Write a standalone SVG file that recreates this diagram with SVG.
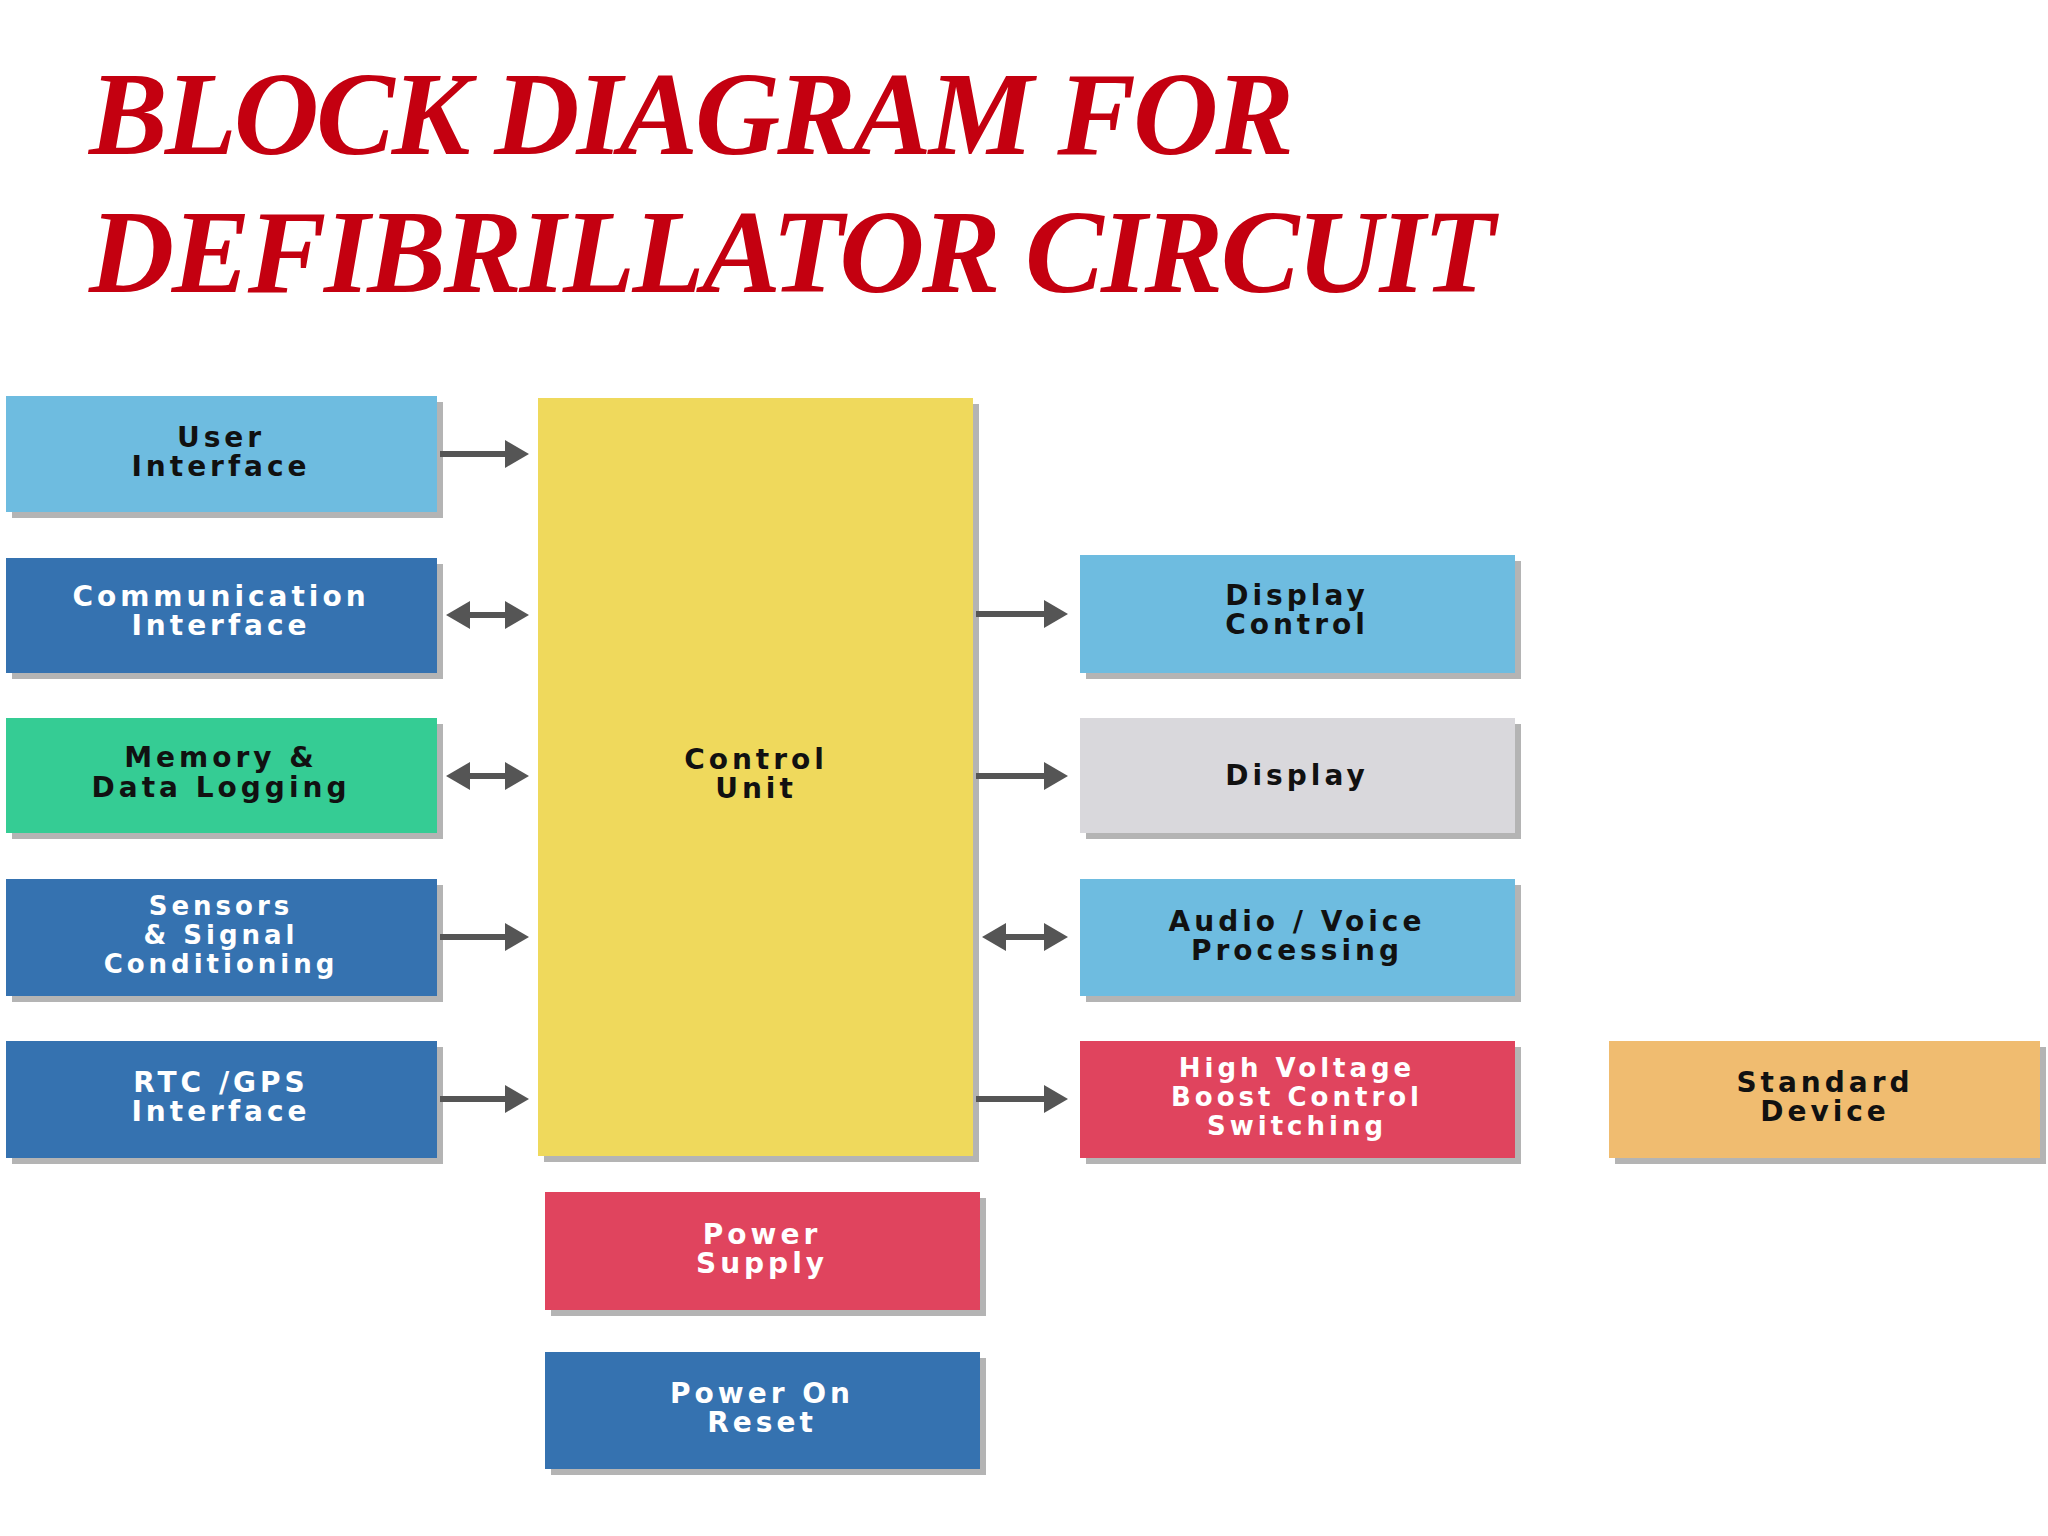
<svg xmlns="http://www.w3.org/2000/svg" width="2048" height="1536" viewBox="0 0 2048 1536">
<defs>
<style>
.t{font-family:"Liberation Serif",serif;font-weight:bold;font-style:italic;font-size:118px;fill:#C40010}
.l{font-family:"DejaVu Sans",sans-serif;font-weight:bold;font-size:28px;text-anchor:middle;letter-spacing:4px}
.s{font-size:26px}
.d{fill:#111}.w{fill:#fff}
.sh{fill:#777;opacity:0.55}
.c{stroke:#555;stroke-width:6;fill:none}
.h{fill:#555}
</style>
</defs>
<rect width="2048" height="1536" fill="#fff"/>
<g id="title">
<text class="t" x="89" y="154" textLength="1205">BLOCK DIAGRAM FOR</text>
<text class="t" x="89" y="292" textLength="1406">DEFIBRILLATOR CIRCUIT</text>
</g>
<g id="user-interface"><rect class="sh" x="12" y="402" width="431" height="116"/><rect x="6" y="396" width="431" height="116" fill="#6EBCE0"/><text class="l d" x="221" y="447">User</text><text class="l d" x="221" y="476">Interface</text></g>
<g id="comm"><rect class="sh" x="12" y="564" width="431" height="115"/><rect x="6" y="558" width="431" height="115" fill="#3572B0"/><text class="l w" x="221" y="606">Communication</text><text class="l w" x="221" y="635">Interface</text></g>
<g id="memory"><rect class="sh" x="12" y="724" width="431" height="115"/><rect x="6" y="718" width="431" height="115" fill="#35CC94"/><text class="l d" x="221" y="767">Memory &amp;</text><text class="l d" x="221" y="797">Data Logging</text></g>
<g id="sensors"><rect class="sh" x="12" y="885" width="431" height="117"/><rect x="6" y="879" width="431" height="117" fill="#3572B0"/><text class="l s w" x="221" y="915">Sensors</text><text class="l s w" x="221" y="944">&amp; Signal</text><text class="l s w" x="221" y="973">Conditioning</text></g>
<g id="rtc"><rect class="sh" x="12" y="1047" width="431" height="117"/><rect x="6" y="1041" width="431" height="117" fill="#3572B0"/><text class="l w" x="221" y="1092">RTC  /GPS</text><text class="l w" x="221" y="1121">Interface</text></g>
<g id="control"><rect class="sh" x="544" y="404" width="435" height="758"/><rect x="538" y="398" width="435" height="758" fill="#EFD95C"/><text class="l d" x="756" y="769">Control</text><text class="l d" x="756" y="798">Unit</text></g>
<g id="display-control"><rect class="sh" x="1086" y="561" width="435" height="118"/><rect x="1080" y="555" width="435" height="118" fill="#6EBCE0"/><text class="l d" x="1297" y="605">Display</text><text class="l d" x="1297" y="634">Control</text></g>
<g id="display"><rect class="sh" x="1086" y="724" width="435" height="115"/><rect x="1080" y="718" width="435" height="115" fill="#D9D8DC"/><text class="l d" x="1297" y="785">Display</text></g>
<g id="audio"><rect class="sh" x="1086" y="885" width="435" height="117"/><rect x="1080" y="879" width="435" height="117" fill="#6EBCE0"/><text class="l d" x="1297" y="931">Audio / Voice</text><text class="l d" x="1297" y="960">Processing</text></g>
<g id="hv"><rect class="sh" x="1086" y="1047" width="435" height="117"/><rect x="1080" y="1041" width="435" height="117" fill="#E0445E"/><text class="l s w" x="1297" y="1077">High Voltage</text><text class="l s w" x="1297" y="1106">Boost Control</text><text class="l s w" x="1297" y="1135">Switching</text></g>
<g id="standard"><rect class="sh" x="1615" y="1047" width="431" height="117"/><rect x="1609" y="1041" width="431" height="117" fill="#F0BC70"/><text class="l d" x="1825" y="1092">Standard</text><text class="l d" x="1825" y="1121">Device</text></g>
<g id="power-supply"><rect class="sh" x="551" y="1198" width="435" height="118"/><rect x="545" y="1192" width="435" height="118" fill="#E0445E"/><text class="l w" x="762" y="1244">Power</text><text class="l w" x="762" y="1273">Supply</text></g>
<g id="por"><rect class="sh" x="551" y="1358" width="435" height="117"/><rect x="545" y="1352" width="435" height="117" fill="#3572B0"/><text class="l w" x="762" y="1403">Power On</text><text class="l w" x="762" y="1432">Reset</text></g>
<g id="connectors">
<path class="c" d="M440,454 H510"/><path class="h" d="M505,440 L529,454 L505,468 Z"/>
<path class="c" d="M465,615 H510"/><path class="h" d="M505,601 L529,615 L505,629 Z"/><path class="h" d="M470,601 L446,615 L470,629 Z"/>
<path class="c" d="M465,776 H510"/><path class="h" d="M505,762 L529,776 L505,790 Z"/><path class="h" d="M470,762 L446,776 L470,790 Z"/>
<path class="c" d="M440,937 H510"/><path class="h" d="M505,923 L529,937 L505,951 Z"/>
<path class="c" d="M440,1099 H510"/><path class="h" d="M505,1085 L529,1099 L505,1113 Z"/>
<path class="c" d="M976,614 H1050"/><path class="h" d="M1044,600 L1068,614 L1044,628 Z"/>
<path class="c" d="M976,776 H1050"/><path class="h" d="M1044,762 L1068,776 L1044,790 Z"/>
<path class="c" d="M1000,937 H1050"/><path class="h" d="M1044,923 L1068,937 L1044,951 Z"/><path class="h" d="M1006,923 L982,937 L1006,951 Z"/>
<path class="c" d="M976,1099 H1050"/><path class="h" d="M1044,1085 L1068,1099 L1044,1113 Z"/>
</g>
</svg>
